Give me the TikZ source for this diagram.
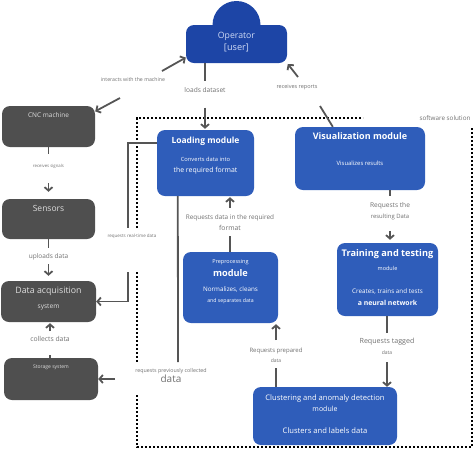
\documentclass[tikz,border=0pt]{standalone}
\usepackage{fontspec}
\setmainfont{Open Sans}
\usetikzlibrary{arrows.meta}
\usetikzlibrary{positioning}

\definecolor{opblue}{HTML}{1D45A6}
\definecolor{modblue}{HTML}{2F5DBA}
\definecolor{boxgray}{HTML}{4F4F4F}
\definecolor{linegray}{HTML}{555555}
\definecolor{labgray}{HTML}{707070}
\definecolor{optext}{HTML}{CFDAF5}
\newcommand{\fsz}[1]{\fontsize{#1}{0}\selectfont}
\setlength{\lineskiplimit}{-100pt}

\tikzset{
    module/.style={rectangle, rounded corners=8pt, fill=modblue, inner sep=0pt},
    graybox/.style={rectangle, rounded corners=8pt, fill=boxgray, inner sep=0pt},
    modtxt/.style={align=center, text=white, inner sep=0pt, anchor=north, font=\fsz{6}},
    graytxt/.style={align=center, text=black!13, inner sep=0pt, font=\fsz{6}},
    lab/.style={align=center, text=labgray, inner sep=1pt, font=\fsz{6}},
    conn/.style={draw=linegray, line width=1.8pt},
    dots/.style={line width=2.2pt, dash pattern=on 2.2pt off 1.8pt},
}

\begin{document}
\begin{tikzpicture}[x=1pt, y=-1pt, >={Straight Barb[length=3.5pt,width=8pt]}]
    \useasboundingbox (0,0) rectangle (474,451);

    % software solution frame
    \draw[dots] (137,228) -- (137,118) -- (363,118);
    \draw[dots] (137,272) -- (137,362);
    \draw[dots] (137,395) -- (137,447) -- (472,447) -- (472,128);
    \node[lab, font=\fsz{6.3}] (lsoft) at (445,118) {software solution};

    % operator
    \coordinate (dome) at (236.5,25);
    \fill[opblue] (dome) circle[radius=24];
    \node[rectangle, rounded corners=8pt, fill=opblue, minimum width=101pt, minimum height=38pt, inner sep=0pt] (op) at (236.5,44) {};
    \node[modtxt, text=optext] (optxt) at (236.5,31.5) {{\fsz{8.7}Operator}\\[12pt]{\fsz{9.2}[user]}};

    % machine side
    \node[graybox, minimum width=93pt, minimum height=41pt] (cnc) at (48.5,126.5) {};
    \node[graytxt, font=\fsz{6.5}] (cnctxt) at (48.5,115) {CNC machine};
    \node[graybox, minimum width=93pt, minimum height=40pt] (sensors) at (48.5,219) {};
    \node[graytxt, font=\fsz{8.5}] (sentxt) at (48.5,208) {Sensors};
    \node[graybox, minimum width=95pt, minimum height=41pt] (daq) at (48.5,301.5) {};
    \node[graytxt, anchor=north] (daqtxt) at (48.5,286.5) {{\fsz{8.8}Data acquisition}\\[15pt]{\fsz{6.6}system}};
    \node[graybox, minimum width=94pt, minimum height=42pt] (storage) at (51,379) {};
    \node[graytxt, font=\fsz{5}] (stotxt) at (51,367) {Storage system};

    % software modules
    \node[module, minimum width=97pt, minimum height=66pt] (load) at (205.5,163) {};
    \node[modtxt] (loadtxt) at (205.5,136.6) {{\fsz{8.5}\bfseries Loading module}\\[18pt]{\fsz{5.75}Converts data into}\\[11.5pt]{\fsz{6.9}the required format}};
    \node[module, minimum width=95pt, minimum height=71pt] (prep) at (230.5,287.5) {};
    \node[modtxt] (preptxt) at (230.5,258.8) {{\fsz{5.5}Preprocessing}\\[13.5pt]{\fsz{9.2}\bfseries module}\\[15pt]{\fsz{6.3}Normalizes, cleans}\\[11pt]{\fsz{5.2}and separates data}};
    \node[module, minimum width=130pt, minimum height=63pt] (vis) at (360,158.5) {};
    \node[modtxt] (vistxt) at (360,132.4) {{\fsz{9}\bfseries Visualization module}\\[26pt]{\fsz{5.9}Visualizes results}};
    \node[module, minimum width=101pt, minimum height=73pt] (train) at (387.5,279.5) {};
    \node[modtxt] (traintxt) at (387.5,249.3) {{\fsz{9.2}\bfseries Training and testing}\\[14.5pt]{\fsz{5.5}module}\\[23pt]{\fsz{6.3}Creates, trains and tests}\\[11.3pt]{\fsz{6.9}\bfseries a neural network}};
    \node[module, minimum width=144pt, minimum height=58pt] (clust) at (325,416) {};
    \node[modtxt] (clusttxt) at (325,395) {{\fsz{7.6}Clustering and anomaly detection}\\[11pt]{\fsz{7}module}\\[22pt]{\fsz{7.6}Clusters and labels data}};

    % connector labels
    \node[lab, font=\fsz{5.2}] (lint) at (133,80) {interacts with the machine};
    \node[lab, font=\fsz{6.6}] (lload) at (205,90) {loads dataset};
    \node[lab, font=\fsz{5.5}] (lrep) at (297,87) {receives reports};
    \node[lab, font=\fsz{4.3}] (lsig) at (48.5,166) {receives signals};
    \node[lab, font=\fsz{6.5}] (lupl) at (48.5,257) {uploads data};
    \node[lab, font=\fsz{6.8}] (lcol) at (50,339) {collects data};
    \node[lab, font=\fsz{4.5}] (lrt) at (132,236) {requests real-time data};
    \node[lab] (lpc) at (171,376) {{\fsz{5.3}requests previously collected}\\[10pt]{\fsz{10}data}};
    \node[lab] (lfmt) at (230,222.5) {{\fsz{6.4}Requests data in the required}\\[11pt]{\fsz{6.8}format}};
    \node[lab] (lres) at (390,211.5) {{\fsz{6.6}Requests the}\\[11pt]{\fsz{5.9}resulting Data}};
    \node[lab] (ltag) at (387,346.5) {{\fsz{7.1}Requests tagged}\\[11pt]{\fsz{5}data}};
    \node[lab] (lprep) at (276,355) {{\fsz{6}Requests prepared}\\[10pt]{\fsz{5}data}};

    \coordinate (ci1) at (162,71);
    \coordinate (ci2) at (120,98);
    \coordinate (rp1) at (298,77);
    \coordinate (rp2) at (320,106);
    \coordinate (rt1) at (128,228);
    \coordinate (rt2) at (128,272);
    \coordinate (pc1) at (178,362);
    \coordinate (pc2) at (115,379);

    \path[conn]
        (cnc) edge [shorten >=8.3pt] (lsig)
        (lsig) edge [->, shorten <=14pt, shorten >=7pt] (sensors)
        (sensors) edge [shorten >=5pt] (lupl)
        (lupl) edge [->, shorten <=3pt, shorten >=5pt] (daq)
        (storage.north -| lcol) edge [shorten >=12pt] (lcol)
        (lcol) edge [->, shorten <=4pt, shorten >=1pt] (daq.south -| lcol)
        (op.south -| lload) edge [shorten >=5pt] (lload)
        (lload) edge [->, shorten <=14pt, shorten >=1pt] (load.north -| lload)
        (vis.south -| lres) edge [shorten >=5.5pt] (lres)
        (lres) edge [->, shorten <=9.5pt, shorten >=3pt] (train.north -| lres)
        (train.south -| ltag) edge [shorten >=4.5pt] (ltag)
        (ltag) edge [->, shorten <=6.5pt] (clust.north -| ltag)
        (clust.north -| lprep) edge [shorten >=4.5pt] (lprep)
        (lprep) edge [->, shorten <=6.5pt, shorten >=1pt] (prep.south -| lprep)
        (prep.north -| lfmt) edge [shorten >=4.5pt] (lfmt)
        (lfmt) edge [->, shorten <=5.5pt, shorten >=1pt] (load.south -| lfmt)
        (ci1) edge [->] (op.-165)
        (ci2) edge [->] (cnc.18)
        (rp1) edge [->, shorten >=1pt] (op.south east)
        ([xshift=38pt]vis.north west) edge (rp2);
    \draw[conn] ([yshift=20pt]load.west) -| (rt1);
    \draw[conn, ->] (rt2) |- (daq.east);
    \draw[conn] ([xshift=21pt]load.south west) -- (pc1);
    \draw[conn, ->] (pc2) -- (storage.east);
\end{tikzpicture}
\end{document}
